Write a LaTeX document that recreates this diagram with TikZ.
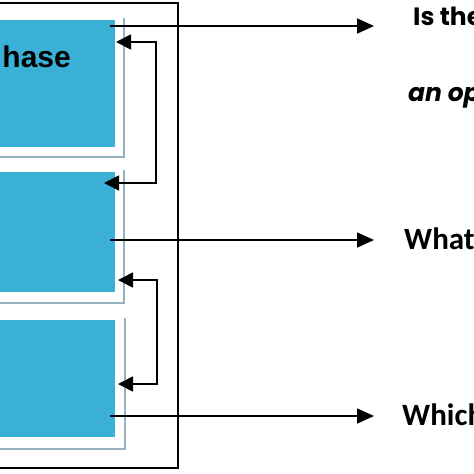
\documentclass[tikz,border=0pt]{standalone}
\usepackage{fontspec}
\setmainfont{Liberation Sans}
\newfontfamily\popfont{Poppins}
\newfontfamily\calfont{Carlito}
\usetikzlibrary{arrows.meta}
\definecolor{boxblue}{RGB}{58,176,214}
\definecolor{shadowgray}{RGB}{150,178,192}
\tikzset{
  phasebox/.style={fill=boxblue, draw=none, inner sep=0pt, anchor=north west},
  shadowline/.style={draw=shadowgray, line width=1.8pt},
  frameline/.style={draw=black, line width=1.4pt},
  arrowline/.style={draw=black, line width=1.7pt, -{Triangle[length=17pt,width=15pt]}},
  feedline/.style={draw=black, line width=1.7pt, {Triangle[length=15pt,width=15pt]}-{Triangle[length=15pt,width=15pt]}},
  qtext/.style={inner sep=0pt, anchor=base west, font=\popfont\bfseries\fontsize{25}{30}\selectfont},
  qitext/.style={inner sep=0pt, anchor=base west, font=\popfont\bfseries\itshape\fontsize{25}{30}\selectfont},
  ctext/.style={inner sep=0pt, anchor=base west, font=\calfont\bfseries\fontsize{31}{36}\selectfont},
}
\begin{document}
\begin{tikzpicture}[x=1pt,y=-1pt]
\useasboundingbox (0,0) rectangle (474,474);
\fill[white] (0,0) rectangle (474,474);
% outer frame
\draw[frameline] (-5,3) -- (178,3) -- (178,468) -- (-5,468);
% shadows
\draw[shadowline] (-5,157) -- (124,157) -- (124,18);
\draw[shadowline] (-5,303) -- (124,303) -- (124,170);
\draw[shadowline] (-5,449) -- (125,449) -- (125,318);
% boxes
\node[phasebox, minimum width=120pt, minimum height=127pt] (b1) at (-5,20) {};
\node[phasebox, minimum width=120pt, minimum height=120pt] (b2) at (-5,172) {};
\node[phasebox, minimum width=120pt, minimum height=117pt] (b3) at (-5,320) {};
\node[inner sep=0pt, anchor=base east, font=\bfseries\fontsize{30}{34}\selectfont] (ph) at (71,67) {hase};
% texts
\node[qtext] (t1) at (413,25) {Is the};
\node[qitext] (t1b) at (408,101) {an op};
\node[ctext] (t2) at (404,249) {What};
\node[ctext] (t3) at (402,425) {Which};
% connector points
\coordinate (s1) at (110,26);
\coordinate (e1) at (374,26);
\coordinate (s2) at (110,240);
\coordinate (e2) at (374,240);
\coordinate (s3) at (110,416);
\coordinate (e3) at (374,416);
\draw[arrowline] (s1) -- (e1);
\draw[arrowline] (s2) -- (e2);
\draw[arrowline] (s3) -- (e3);
% feedback arrows
\coordinate (f1a) at (116,42);
\coordinate (f1b) at (104,183);
\coordinate (f2a) at (118,280);
\coordinate (f2b) at (118,384);
\draw[feedline] (f1a) -- (156,42) -- (156,183) -- (f1b);
\draw[feedline] (f2a) -- (157,280) -- (157,384) -- (f2b);
\end{tikzpicture}
\end{document}
